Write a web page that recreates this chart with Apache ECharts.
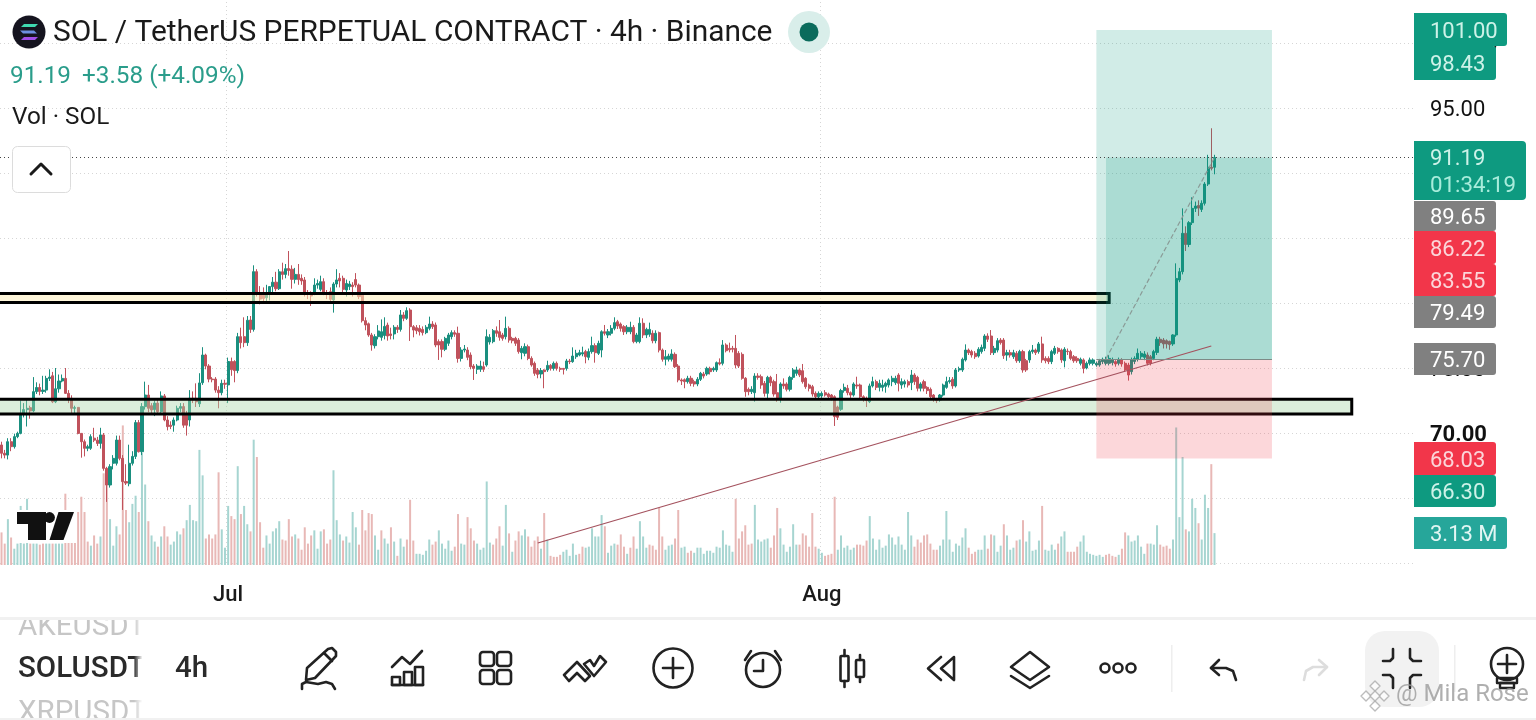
<!DOCTYPE html>
<html><head><meta charset="utf-8">
<style>html,body{margin:0;padding:0;background:#fff}#c{width:1536px;height:720px}</style>
<script src="https://cdn.jsdelivr.net/npm/echarts@6/dist/echarts.min.js"></script>
</head><body><div id="c"></div>
<script>
const opens=[
69.08,68.44,68.3,69.33,68.95,69.72,69.97,71.51,71.8,71.95,
71.7,73.18,73.5,73.2,73.3,74.2,74.4,72.4,73.4,74.0,
74.2,73.05,72.67,71.9,71.97,69.97,69.33,68.82,68.82,69.6,
69.45,69.2,69.85,67.28,66,67.67,67.67,69.46,68.05,66.26,
66.1,67.67,68.2,70.8,68.56,72.03,72.92,72.1,71.8,72.3,
71.64,72.85,71,70.6,70.6,71,71.9,72.03,71.5,71,
72.67,72.67,72.25,73.87,76,75.15,74.15,74.15,73.3,73.1,
73.82,73.7,75.5,75.5,74.8,77.41,77.41,76.95,78.69,77.97,
82.41,80.8,80.6,80.4,80.74,81.26,81.6,81.1,82.4,82.2,
82.65,82.6,81.82,82.2,81.9,81.77,80.79,80.7,80.79,81.38,
81.05,81.64,80.8,80.87,80.23,81.46,81.9,81.9,81,81.26,
81.38,81.8,81.38,80.6,78.64,78.4,77.54,76.72,77.41,77.36,
77.5,78.3,77.62,77.62,78.13,77.97,79.08,78.82,79.46,78.18,
78.1,78.05,77.97,77.72,78.05,78.38,78.31,77.03,77.03,76.44,
76.9,77.41,77.72,77.67,75.74,76.38,76.38,76,75.15,74.9,
74.9,75.1,75.23,77,77.03,77.87,77.79,77.54,77.41,78.05,
77.28,77.28,77.15,76.18,76.13,76.64,75.74,75.36,74.85,74.54,
74.85,74.85,75.2,74.97,75.36,74.97,74.97,74.97,75.54,75.49,
75.87,76,76.08,76.26,75.82,76.26,76.72,76.13,76.38,77.79,
77.54,77.67,78.05,78.56,78.38,78.18,77.79,77.79,78.13,77.03,
77.03,78.44,77.54,77.59,77.67,77.1,77.72,76.38,75.67,75.67,
75.67,76.05,75.15,74.08,74.1,73.95,74.21,73.95,73.77,74.13,
74.54,74.54,74.97,74.85,74.85,75.41,75.36,76.77,76.51,76.51,
76.51,76.13,76.05,74.21,73.36,73.18,73.1,74.38,74.33,73.82,
73.05,74.28,73.95,73.1,72.59,73.77,73.77,73.36,74.28,74.59,
74.85,74.79,74.21,73.69,73.56,73.05,72.79,72.85,73.1,73,
72.92,72.79,72,71.82,73.26,73.44,73.1,72.92,73.69,73.69,
72.79,72.67,72.41,73.62,73.95,73.51,73.51,73.59,73.69,73.95,
73.87,74.46,73.69,73.77,73.95,73.87,74.46,74.28,73.44,73.95,
73.51,73.36,72.92,72.59,72.54,72.92,73.51,73.95,74.13,73.62,
74.85,74.85,75.62,76.38,76.26,76.13,75.92,76.26,76.51,77.46,
77.46,76.18,76.38,77.15,77.15,76,76.18,75.87,76.13,75.56,
76.26,75.56,75.62,76.26,76.38,76.26,76.85,75.74,75.74,75.49,
76.13,76.51,76.38,75.56,76.3,76.26,75.87,75.74,75.36,75.62,
75,75.36,75.36,75.23,75.23,75.49,75.36,75.36,75.41,75.49,
75.36,75.62,75.36,75.23,74.72,75.5,75.67,75.87,75.82,76,
75.87,75.74,76.2,77.21,77.15,77.1,77.05,76.85,77.54,81.77,
82.41,85.36,84.5,86.18,87.28,87.5,87.2,87.67,89.15,90.44,90.44];
const closes=[
68.44,68.3,69.33,68.95,69.72,69.97,71.51,71.8,71.9,71.7,
73.18,73.5,73.2,73.3,74.2,74.3,72.4,73.4,74,74.2,
73.05,72.67,71.9,71.95,69.97,69.33,68.82,68.95,69.72,69.45,
69.2,69.85,67.28,66,67.41,68.05,69.46,68.05,66.26,66.15,
67.67,68.2,70.8,68.56,72.03,72.92,71.9,71.77,72.3,71.64,
72.85,71,70.49,70.5,71,71.9,72.03,70.6,70.6,72.67,
72.55,72.4,73.85,76,75.15,74.15,74.1,73.3,73.1,73.82,
73.75,75.5,74.87,74.8,77.41,76.95,76.95,78.67,77.97,82.41,
80.8,80.3,80.35,80.7,81.26,81.6,81.1,82.4,82.2,82.64,
82.5,81.82,82.2,81.8,81.7,80.74,80.7,80.54,81.38,81.5,
81.64,80.74,80.74,80.28,81.46,81.77,81.7,81.05,81.5,81.46,
81.26,81.38,80.49,78.64,78.31,77.54,76.77,77.41,77.85,77.79,
78.2,77.46,77.5,78.13,77.97,79.08,78.82,79.41,78.18,77.92,
77.87,77.79,77.72,78.13,78.38,78.18,76.77,76.77,76.44,77.28,
77.54,77.72,77.6,75.74,76.38,76.46,75.82,75.1,74.97,75.15,
75.15,74.9,77.41,77.36,77.87,77.67,77.36,77.28,78.05,77.15,
77.1,76.9,76.26,76.51,76.64,75.74,75.23,74.59,74.51,74.8,
74.72,75.2,74.97,75.36,74.97,74.9,74.9,75.54,75.49,75.92,
76.13,76.18,76.18,75.87,76.26,76.72,76.18,76.9,77.79,77.67,
77.79,78.05,78.49,78.23,78.05,77.79,78.13,78.13,77.03,77.54,
78.44,77.54,77.97,77.97,77.1,77.67,76.38,75.67,75.87,75.92,
76.08,75.1,74.08,74,73.95,74.21,73.82,73.77,74.13,74.59,
74.38,74.97,74.72,74.97,75.41,75.31,76.77,76.33,76.4,76.44,
75.23,75.15,74.21,73.18,73.18,73.36,74.38,74.28,73.69,73.05,
74.28,73.87,73,72.59,73.77,73.62,73.36,74.28,74.85,74.85,
74.46,73.95,73.56,73.44,73,72.79,73.05,73.05,72.92,72.79,
72.72,71.26,71.21,73.26,73.51,73.1,72.92,73.77,73.62,72.79,
72.59,72.49,73.62,73.95,73.51,73.82,73.69,73.82,74.08,74.21,
74.21,73.82,73.95,73.95,73.69,74.46,73.95,73.44,73.77,73.44,
73.26,72.79,72.59,72.49,72.92,73.69,73.95,74.03,73.62,74.85,
74.95,75.67,76.38,76.18,76,75.87,76.44,76.59,77.46,77.21,
76.18,76.51,77.1,76.95,75.95,76.18,76,76.18,75.56,76.26,
74.85,74.85,76.26,76.38,76.18,76.85,75.62,75.56,75.49,76.26,
76.51,76.26,75.62,76.44,76.26,75.74,75.56,75.56,75.67,74.97,
75.36,75.62,75.62,75.36,75.56,75.67,75.62,75.74,75.62,75.31,
75.62,75.31,74.85,74.46,75.62,75.74,76.13,76.13,76.08,75.36,
75.36,76.26,77.21,76.95,76.85,76.85,76.8,77.54,81.89,82.41,
85.36,84.5,86.18,87.28,87.46,87.3,87.67,89.15,90.44,90.36,91.19];
const lows=[
68.05,68.05,67.97,68.6,68.8,69.6,69.9,71.2,70.5,71.1,
71.6,73,72.9,73,73.1,74,72.3,72.3,73.1,73.9,
73,72.3,71.4,71.4,69.9,68.1,68.2,68.6,68.7,69.3,
69,68.8,67.1,64.7,65.8,67.2,67.5,67.9,64.08,66,
65.9,67.5,68,68.5,68.3,71.8,71.6,71.4,71.3,71.4,
71.5,70.9,70.2,70.3,70.1,70.9,71.6,70.4,69.8,70.5,
72.3,72,72,73.7,74.9,73.9,73.9,73.1,71.9,72.9,
73.4,72.3,74.4,73.9,74.6,76.5,76.6,76.7,77.7,77.8,
80.5,79.9,80.1,80.1,80.2,80.8,80.9,81,81.8,81.9,
82.1,81.1,81.5,81.4,81.4,80.5,80.3,79.77,80.6,81.1,
80.9,80.6,80.3,80,79.26,81.2,81.2,80.8,80.49,81,
80.49,81.2,80.3,78.5,77.9,77.4,76.33,76.5,77.2,77.1,
77.2,77.1,77.2,77.2,77.7,77.8,78.6,78.7,77.08,77.36,
77.6,77.5,77.5,77.6,77.9,78,76.6,75.62,75.82,76.3,
76.7,77.2,77.4,75.41,75.5,76.2,75.6,74.9,74.08,74.54,
74.7,74.7,75.1,76.8,76.9,77.4,77.1,77.1,77.2,76.95,
76.9,76.7,76.1,75.67,75.9,75.6,75.1,74.4,74.21,74.21,
73.44,74.7,74.8,74.8,74.8,74.7,74.5,74.8,75.3,75.4,
75.7,75.9,75.9,75.36,75.6,76.1,75.41,76,75.82,77.5,
77.3,77.5,77.9,78,77.8,77.54,77.6,77.6,76.9,76.9,
76.9,77.3,77.3,77.4,76.9,76.9,76.2,75.49,75.2,75.5,
75.5,75,73.9,73.69,73.44,73.8,73.6,73.56,73.6,74,
74.2,74.4,74.5,74.7,74.7,75.2,75.2,76.2,76.2,76.2,
74.97,75,74.1,72.79,72.9,73,72.41,74.1,73.4,72.8,
72.67,73.6,72.8,72.4,72.33,73.4,73.2,73.2,74.1,74.4,
74.3,73.8,73.4,73.2,72.8,72.6,72.6,72.7,72.8,72.6,
72.5,70.54,71,71.7,73.1,72.9,72.7,72.8,73.4,72.6,
72.4,72,72.3,73.5,73.3,73.2,73.2,73.1,73.5,73.6,
73.7,73.2,73.4,73.5,73.5,73.3,73.7,73.2,73.2,73.2,
73,72.6,72.4,72.3,72.4,72.8,73.4,73.8,73.4,73.5,
74.7,74.7,75.5,76,75.8,75.7,75.8,76.1,76.3,77,
76,76,76.2,76.8,75.7,75.56,75.8,75.7,75.4,75.4,
74.64,74.7,75.4,76.1,76,76.1,75.4,75.36,75.3,75.3,
76,76.1,75.4,75.05,76,75.6,75.4,75.4,75.2,74.59,
74.9,75.2,75.2,75.1,75.1,75.3,75.2,75.2,75.2,75.1,
75.2,75.1,74.7,74.03,74.5,75.3,75.5,75.7,75.6,75.2,
75.2,75.6,76,76.7,76.5,76.5,76.4,76.7,77.4,81.6,
82.2,84,84.3,86,87,86.7,87,87.5,89,90.2,89.9];
const highs=[
69.33,68.7,69.6,69.6,69.95,70.1,72.5,72.3,72.6,72.1,
74.3,73.9,73.8,74.4,74.4,74.9,74.7,75,74.5,74.5,
75,73.3,72.9,72.1,72,70,69.5,69.1,69.9,70.4,
69.7,70.4,70,67.4,67.6,68.3,69.8,69.8,68.3,67.6,
69.1,68.6,71,71,72.3,73.95,73.7,72.3,72.5,72.6,
73.2,73,71.3,70.9,71.2,72.1,72.3,72.3,71.7,73.3,
73.2,73.82,74.6,76.6,76.1,75.3,74.3,74.3,73.6,74.1,
74.1,75.8,75.8,75.6,77.7,78.1,78.9,79,79,82.9,
82.6,81.3,81.2,81.4,81.3,82,82.4,82.6,83.1,83,
84,82.9,82.7,83,82.2,82,81,80.9,81.9,81.8,
82.1,81.9,81,81.2,81.6,82.6,82.3,82.1,81.8,81.7,
81.6,82.3,81.5,80.7,78.9,78.5,77.7,77.6,78.3,78.74,
78.9,78.49,78.1,78.3,78.3,79.46,79.3,79.67,79.6,78.3,
78.3,78.3,78.2,78.3,78.95,78.6,78.5,77.2,77.2,77.4,
77.7,77.9,77.9,78.18,76.6,76.77,76.6,76.2,75.3,75.3,
75.56,75.49,77.97,77.6,78,78.2,78.69,77.7,78.95,78.2,
77.4,77.4,77.3,76.7,76.9,76.8,75.9,75.5,75,75,
74.9,75.56,75.3,75.5,75.5,75.1,75,75.7,75.7,76.59,
76.4,76.4,76.64,76.4,76.5,77.41,76.9,77.1,77.9,78.31,
78,78.3,78.9,78.7,78.5,78.3,78.3,78.56,78.3,77.7,
78.9,78.82,78.1,78.49,77.9,77.9,77.8,76.5,76.38,76.1,
76.44,76.2,75.3,74.2,74.2,74.4,74.4,74.1,74.3,74.7,
74.7,75.1,75.1,75.1,75.5,75.74,77.15,76.9,76.95,76.7,
77.54,76.3,76.2,74.3,73.5,73.6,74.6,74.6,74.5,74,
74.4,74.4,74.1,74.54,73.9,74.2,73.9,74.4,75,75.1,
74.97,75.31,74.3,73.8,73.7,73.2,73.2,73.2,73.3,73.1,
73,72.9,72.1,73.4,73.8,73.7,73.2,73.9,74.33,73.8,
72.9,72.8,73.8,74.33,74.1,74.1,74.1,73.95,74.2,74.4,
74.4,74.6,74.2,74.1,74.1,74.85,74.6,74.4,73.9,74.1,
73.6,73.5,73,72.7,73,73.8,74.33,74.3,74.3,75,
75.1,75.8,76.82,76.5,76.4,76.3,76.6,76.8,77.6,77.67,
77.92,76.7,77.3,77.3,77.3,76.4,76.4,76.4,76.3,76.4,
76.4,75.7,76.4,76.77,76.5,77,77.41,75.9,75.9,76.4,
76.7,76.6,76.5,76.6,76.5,76.4,76,75.9,75.8,75.74,
75.5,75.8,75.74,75.5,75.7,75.8,75.87,76,75.8,75.6,
75.8,75.75,75.5,75.4,75.8,75.9,76.5,76.3,76.3,76.2,
76,76.4,77.4,77.4,77.3,77.2,77.1,77.6,83.05,82.7,
87.28,85.9,86.3,88.13,87.8,87.9,87.9,89.3,91.4,93.44,91.4];
const volumes=[
3.2,2.1,4.5,2.7,1.6,2.1,5.8,2.1,6.5,2.1,
2.1,2.1,2,2.1,2.1,2.1,2.1,2.1,2.1,2.1,
7,3.1,3.4,2.6,5.2,6.7,5.2,2.3,1.9,2.9,
2.1,2.8,9,8,4.5,1.9,3.8,3,13.7,5.4,
4.2,6,6.8,5.2,11,7.9,4.3,2.9,2.3,1.8,
2.8,3.8,2.8,2,2.3,3.3,3,3.6,4.4,5.9,
4.4,4.3,11.3,8.8,2.6,3,2.6,3,9.1,3.5,
1.7,5.8,4.8,4.5,9.7,5,5.8,4,3.3,12.3,
10.6,4.2,1.7,2.9,2.1,3.3,3.6,4.3,2.5,2.4,
4.5,2.8,3,2.6,1.5,3.7,2.1,2.9,3.4,1.6,
3.3,3.5,2.1,2.5,9.3,4.4,3,2.4,2.8,2.2,
5.2,3.7,2,5.4,3.4,5.1,5,2.9,1.5,3.4,
2.6,2.1,3.7,2.3,0.9,2.6,1.8,2.5,6.4,2.4,
1.1,1.1,1,1.4,2.5,2,2.3,3.4,2.1,1.6,
2.4,1.4,1.8,5,2.1,2,4.7,3.6,2.4,2.1,
1.5,1.7,8.2,2.2,2,2.6,3.8,1.9,5.9,3.1,
1.3,2.4,3.3,2.9,3.5,2.8,1.8,2.4,2.8,1.6,
5.1,2.5,0.9,0.8,0.8,1,1.3,1.5,0.9,2.1,
1,1.1,1.8,1.7,1.8,3.6,2.8,2.8,4.9,3.8,
1.2,1.9,2.1,2,3,1.8,1.1,1.7,2.8,1.6,
4.3,2.8,1.7,2,1.9,1.5,5.6,2.8,1.5,1.9,
2,2.6,5.4,1.7,1.8,1.2,1.4,1.2,1.7,1.7,
1.1,1.4,1.4,1.2,1.8,1.7,3.4,2,1.9,1.3,
6.5,2.6,3.3,3.9,2,2.1,5.9,2.5,2.3,2.5,
2.6,1.7,2.9,5.6,3.6,2,1.3,1.8,4,2,
2,3.1,2.9,1.8,5.1,1.8,1.6,1.2,0.9,1,
1.1,6.7,1.5,2.9,1.7,1.9,1.5,1.7,2,2,
1.9,2.4,4.8,2.6,1.5,2.5,1.7,1.9,3,2.7,
2,2.8,2,1.5,5.2,2.9,1.8,2.5,2.2,2.9,
3,2.1,1.5,1.5,1.9,2.5,5.3,2.5,1.3,2.1,
1.9,2.7,3.6,1.7,1.1,1.3,1.5,1.5,2.9,1.6,
3,2.9,1.3,1.9,4,2.9,1.5,1.7,2.4,2.5,
4.4,2.3,3.3,1.4,1.5,2.4,5.8,1.5,1.4,2,
1.5,2.1,2.8,3.3,1.3,1.3,1.3,1.8,2.3,2.9,
1.3,1.1,1,0.9,1,0.8,1,1.1,0.9,0.8,
1,1.6,3.2,2.9,2.3,2.4,2.9,1.8,1.1,2.1,
2.1,2,3.9,2,1.8,1.9,1.6,2.5,13.5,4.7,
10.6,3.5,3.3,6.5,5.6,4.1,2.5,6.9,5.6,9.9,3.13];
const volumeSides=[
"RRGRGGGGGR","GGRRGGRGGG","RRRRRRRRGR","RGRRGGGRRR","GGGRGGRGGR","GRRGGGGRGG","GGGGRRRRRG","GGRRGRGGRG",
"RRRGGGGGRR","RRGRRRRRGG","GRRRGGGRGG","GGRRRRRGGR","GGRGRGGRRR","GGGGGRRGGG","GGRRGGRRRG","GGGGRRRGGR",
"GRRGGRRRRG","RGRRRRGGGG","GRRGGGGGGR","GGGRRRGRRG","GGGRRRRRGG","GRRGGRRGGG","GGGGGGGGGG","RRRRRRGGGG",
"GRRRGGGGGG","RRRRRRGGRR","RRGGGGGGRR","RRGGGGGGGG","GGGGGGRRRR","RRRRGGGGGG","GGGRRRGGGR","RGGGRGGGRG",
"RGGGGGRGGG","GRGGRRRRGG","GGGGGGRRRR","GRRGGGGGGR","GGGRRRRGGG","GRGGGRGGGRG"].join("");

const tickDates=["07-01 00:00","08-01 00:00"];
const tickLabels=["Jul","Aug"];
const priceAxisLabels=[65,70,75,80,85,90,95,100];
const zones={yellow:[80.04,80.73],green:[71.46,72.6]};
const positionTool={target:101,current:91.19,entry:75.7,stop:68.03};
const trendLine=[61.54,76.69];

const PAD=10, TOTAL=453, FIRST=81;
const p2=n=>String(n).padStart(2,"0");
const categories=[];
for(let i=0;i<TOTAL;i++){
  const d=new Date(Date.UTC(2025,6,1)+(i-FIRST)*4*3600*1000);
  categories.push(p2(d.getUTCMonth()+1)+"-"+p2(d.getUTCDate())+" "+p2(d.getUTCHours())+":00");
}
const blanks=Array.from({length:PAD},()=>["-","-","-","-"]);
const candleData=blanks.concat(opens.map((o,i)=>[o,closes[i],lows[i],highs[i]]));
const volData=Array(PAD).fill("-").concat(volumes.map((v,i)=>({value:v,itemStyle:{color:volumeSides[i]==="G"?"#a6d5d1":"#e8b8b6"}})));
const ix=i=>i+PAD;
const isTick=(i)=>tickDates.includes(categories[i]);

const F="Roboto, sans-serif";
const g=[];
const Z=100;
const rect=(x,y,w,h,fill,r,extra)=>g.push(Object.assign({type:"rect",z:Z,silent:true,shape:{x,y,width:w,height:h,r:r||0},style:{fill}},extra||{}));
const text=(x,y,t,size,fill,weight,extra)=>g.push(Object.assign({type:"text",z:Z+2,silent:true,x,y:y+2.5,style:{text:t,font:(weight||400)+" "+size+"px "+F,fill,textVerticalAlign:"middle",textAlign:"left"}},extra||{}));
const line=(pts,stroke,w)=>g.push({type:"polyline",z:Z+2,silent:true,shape:{points:pts},style:{stroke:stroke||"#222",lineWidth:w||2.6,fill:null,lineJoin:"round",lineCap:"round"}});
const poly=(pts,fill,stroke,w)=>g.push({type:"polygon",z:Z+2,silent:true,shape:{points:pts},style:{fill:fill||"none",stroke:stroke||null,lineWidth:w||0,lineJoin:"round"}});
const circ=(cx,cy,r,fill,stroke,w)=>g.push({type:"circle",z:Z+2,silent:true,shape:{cx,cy,r},style:{fill:fill||"none",stroke:stroke||null,lineWidth:w||0}});
const rr=(x,y,w,h,r)=>g.push({type:"rect",z:Z+2,silent:true,shape:{x,y,width:w,height:h,r},style:{fill:"none",stroke:"#222",lineWidth:2.6}});

// Header
circ(29,32,16.5,"#15141f");
poly([[21,27],[35,27],[38,24],[24,24]],"#3fd9b0");
poly([[20,30.5],[34,30.5],[37,33.5],[23,33.5]],"#6c8fe0");
poly([[24,37],[38,37],[35,40],[21,40]],"#a24fe8");
text(53,31,"SOL / TetherUS PERPETUAL CONTRACT · 4h · Binance",29.9,"#1a1a1a");
circ(809,32,21,"#d9eeea");
circ(809,32,9.5,"#0b6b5c");
text(10,74,"91.19",24.3,"#2a9d8b");
text(82,74,"+3.58 (+4.09%)",24.3,"#2a9d8b");
text(12,115,"Vol · SOL",24.3,"#1a1a1a");
rect(12.5,146.5,58,46,"#fff",5,{style:{fill:"#fff",stroke:"#dcdcdc",lineWidth:1}});
line([[31,174],[41,164],[51,174]],"#1a1a1a",3);

// TradingView mark
rect(14,510,62,33,"#fff");
poly([[17,512],[46,512],[46,540],[28,540],[28,524],[17,524]],"#111");
circ(49.5,517.5,5.4,"#111");
poly([[58.5,512],[74,512],[63.5,540],[49.5,540]],"#111");

// Price scale edge and tags
rect(1413,0,3,600,"#fff");
const G="#0e9a80",R="#f2364a",K="#808080",GT="#cdf2e8",RT="#fbd5d9";
const tags=[
 ["101.00",13,46,1507,G,GT],["98.43",46,80,1496,G,GT],
 ["89.65",201,231,1496,K,"#fff"],["86.22",231,264,1496,R,RT],["83.55",264,296,1496,R,RT],
 ["79.49",296,328,1496,K,"#fff"],["75.70",343,375,1496,K,"#fff"],
 ["68.03",442,475,1496,R,RT],["66.30",475,507,1496,G,GT],["3.13 M",517,549,1507,"#26a69a","#e2f6f3"]];
tags.forEach(t=>{rect(1414,t[1],t[3]-1414,t[2]-t[1],t[4],[0,3,3,0]);text(1430,(t[1]+t[2])/2,t[0],22,t[5]);});
rect(1414,141,112,59,G,[0,4,4,0]);
text(1430,157,"91.19",22,GT);
text(1430,184,"01:34:19",22.3,"#a8ecdb");

// Bottom toolbar
text(18,625,"AKEUSDT",29.5,"#c6c6c6",400);
text(18,711,"XRPUSDT",29.5,"#c6c6c6",400);
rect(0,608,1536,10,"#fff",0,{z:Z+3});
rect(0,617,1536,3,"#f1f1f1",0,{z:Z+3});
rect(0,718,1536,2,"#f1f1f1",0,{z:Z+3});
text(18,667,"SOLUSDT",29.5,"#2a2a2a",500);
g.push({type:"rect",z:Z+3,silent:true,shape:{x:134,y:620,width:14,height:98},style:{fill:{type:"linear",x:0,y:0,x2:1,y2:0,colorStops:[{offset:0,color:"rgba(255,255,255,0)"},{offset:.6,color:"#fff"},{offset:1,color:"#fff"}]}}});
text(175,667,"4h",29.5,"#2a2a2a",500);
// pencil
poly([[307,668],[328,649],[332,648],[336,652],[336,656],[315,678],[306,680]],"none","#222",2.6);
line([[324,653],[332,661]]);
line([[302,689],[302,684],[306,682],[312,683],[318,684],[326,682],[332,684],[335,689]]);
// chart
line([[392,667],[402,657],[410,664],[422,651]]);
poly([[392,685],[392,677],[400,677],[400,685]],"none","#222",2.6);
poly([[404,685],[404,672],[412,672],[412,685]],"none","#222",2.6);
poly([[415,685],[415,667],[423,667],[423,685]],"none","#222",2.6);
line([[392,685],[423,685]]);
// grid
rr(480,652,14,14,3);rr(497,652,14,14,3);rr(480,670,14,14,3);rr(497,670,14,14,3);
// pattern
poly([[564,675],[577,662],[590,676],[585,681],[577,673],[569,681]],"none","#222",2.6);
poly([[584,664],[590,660],[594,666],[600,656],[606,662],[594,676]],"none","#222",2.6);
// plus
circ(673,668,19.5,"none","#222",2.6);line([[663,668],[683,668]]);line([[673,658],[673,678]]);
// alarm
circ(763,670,17,"none","#222",2.6);line([[763,660],[763,671],[754,671]]);line([[745,660],[751,651]]);line([[781,660],[775,651]]);
// candles
line([[844.5,650],[844.5,656]]);line([[844.5,681],[844.5,687]]);rr(840.5,656,8,25,1);
line([[860,655],[860,660]]);line([[860,677],[860,682]]);rr(856,660,8,17,1);
// rewind
line([[941,657],[928,668.5],[941,680]]);poly([[954,657],[941,668.5],[954,680]],"none","#222",2.6);
// layers
poly([[1030,652],[1049,667],[1030,680],[1011,667]],"none","#222",2.6);line([[1011,676],[1030,688],[1049,676]]);
// dots
circ(1105,668,4.5,"none","#222",2.6);circ(1118,668,4.5,"none","#222",2.6);circ(1131,668,4.5,"none","#222",2.6);
rect(1171,645,1.5,47,"#eee");
// undo/redo
line([[1219,660],[1211,668],[1219,675]]);line([[1211,668],[1226,668],[1233,671],[1236,680]]);
line([[1319,660],[1327,667],[1319,675]],"#ddd");line([[1327,667],[1313,667],[1306,671],[1304,680]],"#ddd");
// compress
rect(1365,631,74,76,"#f2f2f2",20);
line([[1393,649],[1393,658],[1390,661],[1383,661]]);line([[1410,649],[1410,658],[1413,661],[1421,661]]);
line([[1383,675],[1390,675],[1393,678],[1393,688]]);line([[1421,675],[1413,675],[1410,678],[1410,688]]);
rect(1454,645,1.5,47,"#eee");
// idea
circ(1507,664,16,"none","#222",2.6);line([[1498,664],[1516,664]]);line([[1507,655],[1507,673]]);
poly([[1497,678],[1517,678],[1517,683],[1497,683]],"none","#222",2.4);
poly([[1500,683],[1514,683],[1514,688],[1500,688]],"none","#222",2.4);
// watermark
[[1375,686],[1366,696],[1384,696],[1375,706],[1375,696]].forEach(c=>poly([[c[0],c[1]-5],[c[0]+5,c[1]],[c[0],c[1]+5],[c[0]-5,c[1]]],"rgba(255,255,255,.7)","rgba(165,165,165,.75)",1.4));
text(1396,692,"@ Mila Rose",24,"rgba(155,155,155,.8)",400,{z:Z+4});

const chart=echarts.init(document.getElementById("c"),null,{renderer:"canvas"});
const zoneEnd=ix(347), greenEnd=ix(423), toolL=ix(343), toolM=ix(346), toolR=ix(398);
chart.setOption({
 animation:false,backgroundColor:"#fff",
 grid:[{left:-32,width:1446,top:-22,height:585,outerBoundsMode:"none"},{left:-32,width:1446,top:402,height:163,outerBoundsMode:"none"}],
 xAxis:[
  {type:"category",gridIndex:0,data:categories,axisLine:{show:false},axisTick:{show:false},
   axisLabel:{interval:(i)=>isTick(i),formatter:(v)=>tickLabels[tickDates.indexOf(v)]||"",margin:21,fontFamily:F,fontSize:22,fontWeight:500,color:"#1a1a1a"},
   splitLine:{show:true,interval:(i)=>isTick(i),lineStyle:{type:[1,3],color:"#d6d6d6",width:1}}},
  {type:"category",gridIndex:1,data:categories,show:false}],
 yAxis:[
  {type:"value",gridIndex:0,position:"right",min:60,max:105,interval:5,scale:true,axisLine:{show:false},axisTick:{show:false},
   axisLabel:{margin:16,fontFamily:F,fontSize:22,color:"#111",padding:[4,0,0,0],
    rich:{b:{fontFamily:F,fontSize:22,fontWeight:700,color:"#111"}},
    formatter:(v)=>v===70?"{b|70.00}":(priceAxisLabels.includes(v)?v.toFixed(2):"")},
   splitLine:{lineStyle:{type:[1,3],color:"#d6d6d6",width:1}}},
  {type:"value",gridIndex:1,min:0,max:16,show:false,splitLine:{show:false}}],
 series:[
  {type:"bar",name:"Vol",xAxisIndex:1,yAxisIndex:1,data:volData,barWidth:2,z:1,silent:true},
  {type:"candlestick",name:"SOLUSDT",xAxisIndex:0,yAxisIndex:0,data:candleData,barWidth:2.6,z:2,silent:true,
   itemStyle:{color:"#1a8f7f",color0:"#c0525c",borderColor:"#1a8f7f",borderColor0:"#c0525c",borderWidth:1},
   markArea:{z:5,silent:true,data:[
    [{xAxis:0,yAxis:zones.yellow[1],itemStyle:{color:"rgba(255,240,190,.55)",borderColor:"#000",borderWidth:3}},{xAxis:zoneEnd,yAxis:zones.yellow[0]}],
    [{xAxis:0,yAxis:zones.green[1],itemStyle:{color:"rgba(170,215,170,.42)",borderColor:"#000",borderWidth:3}},{xAxis:greenEnd,yAxis:zones.green[0]}],
    [{xAxis:toolL,yAxis:positionTool.target,itemStyle:{color:"rgba(8,153,129,.19)"}},{xAxis:toolR,yAxis:positionTool.entry}],
    [{xAxis:toolL,yAxis:positionTool.entry,itemStyle:{color:"rgba(242,54,69,.2)"}},{xAxis:toolR,yAxis:positionTool.stop}],
    [{xAxis:toolM,yAxis:positionTool.current,itemStyle:{color:"rgba(8,153,129,.19)"}},{xAxis:toolR,yAxis:positionTool.entry}]
   ]},
   markLine:{z:6,silent:true,symbol:["none","none"],label:{show:false},data:[
    {yAxis:positionTool.current,lineStyle:{type:[1,3],color:"#444",width:1}},
    [{coord:[ix(168),trendLine[0]],lineStyle:{type:"solid",color:"#a4525e",width:1.2}},{coord:[ix(379),trendLine[1]]}],
    [{coord:[ix(346),positionTool.entry],lineStyle:{type:"dashed",color:"#8a9a96",width:1.2}},{coord:[ix(380),positionTool.current]}],
    [{coord:[toolL,positionTool.entry],lineStyle:{type:"solid",color:"#7d8a86",width:1.2}},{coord:[toolR,positionTool.entry]}]
   ]}}
 ],
 graphic:{elements:g}
});
</script></body></html>
